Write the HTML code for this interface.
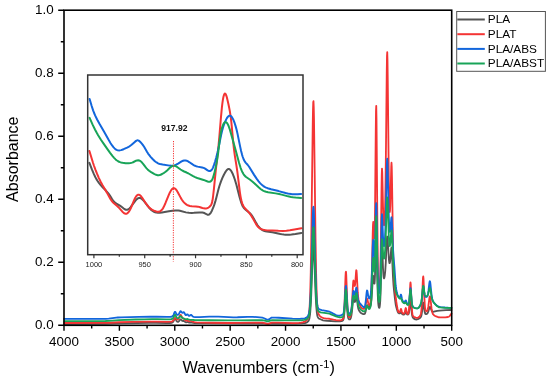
<!DOCTYPE html>
<html><head><meta charset="utf-8"><style>
html,body{margin:0;padding:0;background:#fff;}
svg{display:block;}
text{font-family:"Liberation Sans",Arial,sans-serif;}
</style></head><body>
<svg width="550" height="380" viewBox="0 0 550 380">
<rect width="550" height="380" fill="#fff"/>
<g fill="none" stroke-width="1.8" stroke-linejoin="round" stroke-linecap="round">
<path d="M64,324 L106,323.89 L119.75,323.41 L137,323.01 L148.5,322.84 L156,322.8 L166.25,323.02 L170,322.98 L171,322.9 L171.75,322.76 L172.25,322.57 L172.75,322.22 L173.25,321.61 L173.5,321.18 L174.5,319.04 L174.75,318.66 L175,318.5 L175.25,318.61 L175.5,318.94 L176.25,320.45 L176.75,321.26 L177,321.55 L177.5,321.86 L178,321.86 L178.5,321.61 L179,321.14 L180.25,319.55 L180.5,319.42 L180.75,319.42 L181,319.56 L182.25,320.81 L182.75,320.99 L183.5,320.96 L184,321.08 L185.25,322.03 L185.75,322.25 L186.25,322.28 L187.25,322 L187.5,322.01 L188.5,322.46 L189.25,322.61 L191,322.3 L193,322.86 L194.5,322.99 L203.5,323.09 L239.75,323.23 L276.25,323.59 L289.5,323.64 L296,323.59 L300.5,323.45 L303.75,323.19 L305,323 L305.75,322.82 L306.75,322.42 L307.5,321.96 L308.25,321.24 L308.75,320.43 L309.25,319.04 L309.5,317.98 L310,314.66 L310.25,312.19 L310.75,305.07 L311.25,294.62 L312.75,252.8 L313,248.14 L313.25,245.48 L313.5,245.16 L313.75,247.19 L314,251.31 L315.5,291.96 L316,302.45 L316.25,306.42 L316.75,312.04 L317.25,315.29 L317.5,316.29 L318,317.53 L318.5,318.18 L319,318.56 L320.5,319.21 L322,319.95 L323,320.3 L324.75,320.57 L327,320.77 L335.25,321.29 L338.25,321.4 L340,321.36 L341.25,321.21 L342.25,320.89 L342.75,320.56 L343,320.29 L343.25,319.87 L343.5,319.21 L343.75,318.2 L344,316.66 L344.5,311.46 L345.5,294.95 L345.75,292.46 L346,292.17 L346.25,294.17 L347.25,310.26 L347.75,315.58 L348,317.13 L348.25,318.14 L348.5,318.75 L348.75,319.11 L349,319.3 L349.5,319.43 L350,319.36 L350.25,319.13 L350.5,318.68 L350.75,318.05 L351.25,316.17 L351.5,314.85 L352,311.21 L353,300.9 L353.25,299.21 L353.5,298.61 L353.75,298.97 L354.5,301.6 L354.75,301.97 L355,301.84 L355.25,301.09 L356,296.86 L356.25,296.01 L356.5,296.23 L356.75,297.57 L357.75,305.87 L358.25,308.38 L358.75,309.86 L359.5,311.3 L360.25,312.33 L361,313 L362.25,313.7 L363.25,314.08 L364,314.16 L364.5,314 L364.75,313.78 L365,313.39 L365.5,312.01 L366.5,307.28 L366.75,306.21 L367,305.5 L367.25,305.25 L367.5,305.39 L368.25,306.56 L368.5,306.84 L368.75,307 L369,307.07 L369.5,307 L369.75,306.88 L370,306.67 L370.25,306.32 L370.5,305.78 L370.75,304.95 L371,303.7 L371.5,299.46 L372,292.43 L372.75,279.69 L373,276.92 L373.25,275.97 L373.5,276.92 L374,281.8 L374.25,283.6 L374.5,283.57 L374.75,280.88 L375,275.11 L375.75,245.36 L376,237.84 L376.25,236.24 L376.5,241.52 L377.25,276.27 L377.75,294.4 L378,299.92 L378.25,303.5 L378.5,305.67 L378.75,306.92 L379,307.56 L379.25,307.8 L379.5,307.53 L379.75,306.42 L380,304.24 L380.25,300.62 L380.5,295.11 L380.75,287.35 L381.5,254.73 L381.75,246.42 L382,243.65 L382.25,246.76 L383,267.89 L383.25,272.91 L383.5,276.13 L383.75,277.88 L384,278.4 L384.25,278.06 L384.5,277.12 L384.75,275.64 L385.25,270.87 L385.75,263.02 L386.75,241.49 L387,237.88 L387.25,236.53 L387.5,237.65 L387.75,240.76 L388.75,257.53 L389,260.34 L389.25,262.22 L389.5,263.16 L389.75,263.12 L390,262.15 L390.25,260.33 L391.25,248.4 L391.5,247.59 L391.75,249.46 L392,253.88 L393,277.43 L393.5,285 L394,290.31 L395,299.45 L395.75,304.78 L396.25,307.02 L397,309.79 L397.75,311.9 L398.25,312.77 L398.75,313.15 L399.25,313.37 L399.5,313.41 L399.75,313.38 L400,313.26 L400.75,312.55 L401,312.5 L401.25,312.69 L402,313.83 L402.25,314.11 L402.75,314.42 L403.25,314.55 L403.75,314.59 L404.25,314.48 L404.5,314.32 L405,313.65 L405.5,312.74 L405.75,312.51 L406,312.61 L406.75,313.92 L407,314.24 L407.25,314.45 L407.75,314.56 L408,314.5 L408.25,314.35 L408.5,314.05 L408.75,313.49 L409,312.49 L409.25,310.92 L410.25,300.8 L410.5,300 L410.75,301.16 L411.75,312.67 L412,314.57 L412.25,315.87 L412.5,316.72 L412.75,317.3 L413.25,318.01 L413.75,318.5 L414.25,318.87 L415,319.28 L415.5,319.43 L416.25,319.5 L417,319.42 L417.75,319.21 L418.5,318.9 L419.5,318.33 L420.25,317.73 L420.75,317.12 L421,316.66 L421.25,316 L421.5,315.04 L421.75,313.69 L422,311.89 L422.75,304.88 L423,303.16 L423.25,302.6 L423.5,303.35 L424.25,309.27 L424.75,312.34 L425,313.23 L425.25,313.76 L425.5,314.05 L425.75,314.17 L426.25,314.17 L426.75,313.97 L427.25,313.57 L427.75,312.86 L428.25,311.67 L429.5,307.42 L429.75,306.93 L430,306.79 L430.25,307.03 L430.5,307.56 L431.25,309.72 L431.75,310.85 L432.25,311.49 L432.75,311.75 L433.25,311.77 L433.75,311.7 L437.25,310.88 L439.5,310.54 L446,310.14 L451.5,310" stroke="#555555"/>
<path d="M64,323 L105.5,322.9 L109.25,322.77 L118.75,322.24 L132.75,321.93 L150.25,321.72 L156.75,321.7 L167,321.81 L170.75,321.72 L171.75,321.56 L172.25,321.36 L172.75,321.03 L173.5,320.17 L174.5,318.49 L174.75,318.17 L175,318 L175.25,318 L175.5,318.14 L176.5,319.15 L177,319.45 L177.5,319.5 L178,319.27 L178.5,318.72 L178.75,318.31 L180,315.49 L180.25,315.05 L180.5,314.82 L180.75,314.85 L181,315.11 L182,317.18 L182.5,317.94 L183,318.31 L183.75,318.57 L184,318.75 L185.25,320.11 L185.75,320.46 L186.25,320.59 L187.25,320.48 L187.5,320.53 L188.5,321.07 L189,321.23 L189.5,321.22 L190.5,320.87 L191,320.8 L191.5,321.01 L192.5,321.67 L193.25,321.97 L194.5,322.16 L196.5,322.28 L203.25,322.53 L212.25,322.76 L229,322.99 L238.75,322.97 L262,322.6 L262.75,322.66 L263.5,322.82 L266.75,323.85 L268,324 L268.75,323.87 L271,322.82 L271.5,322.66 L272,322.6 L278,322.66 L292.5,323.07 L296,323.05 L299,322.9 L301.25,322.64 L303.25,322.2 L304.75,321.63 L305.5,321.2 L306,320.82 L306.75,320.05 L307.25,319.37 L308,317.88 L308.5,316.25 L309,313.45 L309.5,308.34 L309.75,304.37 L310.25,292.08 L310.75,271.9 L311.25,242.11 L312.75,122.74 L313,109.49 L313.25,102 L313.5,101.21 L313.75,107.21 L314,119.21 L315.5,236.94 L316,267.34 L316.25,278.87 L316.5,288.09 L317,300.74 L317.5,307.79 L317.75,309.96 L318.25,312.68 L318.5,313.54 L319,314.71 L319.5,315.5 L320,316.09 L320.75,316.75 L321.5,317.24 L322.5,317.72 L323.5,318.05 L325.5,318.42 L329.5,318.76 L333.5,319.69 L336,320.06 L338.5,320.29 L340.25,320.35 L341.25,320.22 L342,319.9 L342.5,319.49 L342.75,319.17 L343,318.7 L343.25,318 L343.5,316.91 L343.75,315.21 L344,312.64 L344.5,303.95 L345.5,276.33 L345.75,272.17 L346,271.69 L346.25,275.03 L347,295.55 L347.5,307 L347.75,310.78 L348,313.38 L348.25,315.05 L348.5,316.07 L348.75,316.65 L349,316.97 L349.25,317.12 L349.75,317.14 L350,317.04 L350.25,316.62 L350.5,315.85 L351,313.32 L351.5,309.21 L351.75,306.34 L352.25,298.58 L353,284.55 L353.25,281.57 L353.5,280.54 L353.75,281.23 L354.25,284.51 L354.5,285.71 L354.75,286.05 L355,285.26 L355.25,283.15 L356,272.44 L356.25,270.24 L356.5,270.57 L356.75,273.56 L357.75,292.44 L358.25,297.98 L358.5,299.73 L359,302.17 L359.5,303.95 L360,305.41 L360.75,307.07 L361.25,307.78 L361.5,308 L362.5,308.58 L363.25,308.84 L363.75,308.87 L364,308.82 L364.5,308.5 L364.75,308.17 L365,307.68 L365.5,306.02 L366.5,300.19 L366.75,299.02 L367,298.5 L367.25,298.76 L367.5,299.66 L368.25,303.39 L368.5,304.3 L368.75,304.91 L369,305.22 L369.25,305.27 L369.5,305.09 L369.75,304.67 L370,304 L370.25,302.97 L370.5,301.41 L370.75,299.09 L371,295.7 L371.25,290.89 L371.75,275.97 L372.75,232.26 L373,224.76 L373.25,221.81 L373.5,223.65 L374,234.61 L374.25,238.27 L374.5,237.1 L374.75,228.95 L375,212.69 L375.75,131.34 L376,110.72 L376.25,105.82 L376.5,119.18 L377.25,209.64 L377.75,256.66 L378,270.81 L378.25,279.86 L378.5,285.21 L378.75,288.14 L379,289.56 L379.25,290 L379.5,289.34 L379.75,286.83 L380,282.19 L380.25,274.89 L380.75,249.66 L381.5,190.08 L381.75,174.63 L382,168.57 L382.25,172.54 L383,205.94 L383.25,214.4 L383.5,220.25 L383.75,223.93 L384,225.3 L384.25,224.77 L384.5,222.45 L384.75,218.09 L385,211.11 L385.25,200.79 L385.5,186.48 L386,145.26 L386.75,71.22 L387,55.92 L387.25,52.05 L387.5,60.72 L387.75,79.45 L388.75,174.65 L389,190.91 L389.25,202.46 L389.5,209.41 L389.75,211.99 L390,210.55 L390.25,205.61 L390.5,197.46 L391.25,166.47 L391.5,162.7 L391.75,167.05 L392,179.15 L393,245.41 L393.25,256.98 L393.75,272.61 L394.25,281.8 L394.75,287.74 L395.5,295.05 L396.25,301.23 L396.75,304.59 L397.5,308.64 L398,310.86 L398.25,311.61 L398.5,312 L399,312.27 L399.25,312.31 L399.5,312.23 L399.75,311.97 L400,311.49 L400.75,309.25 L401,309 L401.25,309.39 L402,312.05 L402.25,312.69 L402.5,313.12 L402.75,313.39 L403.25,313.66 L403.75,313.72 L404,313.64 L404.25,313.43 L404.5,312.98 L404.75,312.22 L405.5,308.63 L405.75,308.01 L406,308.34 L406.75,312.06 L407,313 L407.25,313.59 L407.5,313.9 L407.75,313.98 L408,313.89 L408.25,313.57 L408.5,312.9 L408.75,311.64 L409,309.46 L409.25,306.05 L410.25,284.21 L410.5,282.3 L410.75,284.41 L411.75,307.04 L412,310.64 L412.25,313.02 L412.5,314.48 L412.75,315.36 L413,315.91 L413.5,316.54 L414,316.93 L414.5,317.22 L415.75,317.66 L417,317.81 L417.5,317.79 L418,317.67 L418.5,317.43 L419,317.06 L419.75,316.27 L420.25,315.5 L420.75,314.23 L421,313.15 L421.25,311.53 L421.5,309.09 L422,300.82 L422.75,282.17 L423,277.66 L423.25,276.33 L423.5,278.64 L424.25,295.65 L424.75,304.58 L425,307.28 L425.25,309.01 L425.5,310.05 L425.75,310.65 L426,311 L426.25,311.19 L426.5,311.26 L426.75,311.22 L427,311.07 L427.25,310.77 L427.5,310.26 L427.75,309.49 L428.25,306.99 L429.5,297.37 L429.75,296.42 L430,296.43 L430.25,297.43 L430.5,299.21 L431.5,308.13 L432,311.23 L432.25,312.29 L432.75,313.69 L433.25,314.48 L433.75,314.98 L434.75,315.68 L436.25,316.46 L437.5,316.94 L438.75,317.26 L439.75,317.39 L441.25,317.42 L445.25,317.28 L448,317 L448.75,316.72 L449.25,316.35 L450,315.59 L451.5,313.67" stroke="#F43434"/>
<path d="M64,318.9 L105.5,318.89 L108.75,318.65 L116.25,317.63 L117.75,317.51 L121,317.38 L139,316.92 L149.75,316.73 L156.75,316.71 L167,316.94 L170.25,316.87 L171.25,316.76 L171.75,316.63 L172.25,316.39 L172.75,315.97 L173.25,315.27 L173.5,314.8 L174.5,312.43 L174.75,312 L175,311.8 L175.25,311.87 L175.5,312.18 L176.25,313.61 L176.75,314.39 L177.25,314.83 L177.5,314.91 L177.75,314.91 L178,314.83 L178.5,314.43 L179,313.72 L180,311.81 L180.25,311.44 L180.5,311.23 L180.75,311.22 L181,311.39 L181.75,312.37 L182,312.63 L182.25,312.78 L182.5,312.81 L182.75,312.72 L183.5,312.2 L183.75,312.18 L184,312.35 L184.25,312.7 L185.25,314.54 L185.75,315.05 L186,315.13 L186.25,315.08 L187.25,314.31 L187.5,314.34 L187.75,314.55 L188.5,315.54 L188.75,315.76 L189,315.88 L189.25,315.9 L189.75,315.69 L190.75,314.84 L191,314.8 L191.25,314.91 L191.5,315.14 L192.25,316.05 L193,316.68 L193.75,316.96 L195,317.1 L197,317.15 L199.5,317.11 L209.25,316.7 L213.5,316.6 L218.25,316.68 L228.75,317.18 L233.25,317.3 L237.5,317.24 L247.75,316.83 L252.75,316.85 L257.25,317.11 L262.25,317.64 L263.5,318.01 L266.5,319.32 L267.25,319.53 L268,319.6 L268.75,319.41 L269.25,319.14 L271,317.91 L271.5,317.69 L272,317.6 L275.25,317.64 L278.75,317.76 L292.5,318.6 L297.75,318.79 L300.5,318.75 L302.75,318.59 L304.5,318.32 L305.25,318.13 L305.75,317.92 L306.75,317.28 L307.5,316.53 L308.25,315.38 L308.75,314.14 L309.25,312.07 L309.5,310.51 L310,305.71 L310.25,302.17 L310.75,292.01 L311.25,277.13 L312.75,217.78 L313,211.14 L313.25,207.33 L313.5,206.79 L313.75,209.59 L314,215.33 L315.5,272.22 L316,286.88 L316.25,292.41 L316.75,300.23 L317.25,304.71 L317.5,306.08 L317.75,307.06 L318,307.75 L318.25,308.25 L318.75,308.87 L319.5,309.39 L320.25,309.74 L321.75,310.17 L326,310.95 L329.5,311.74 L330.75,312.27 L333.25,313.65 L336,314.97 L337.5,315.56 L338.5,315.71 L339.75,315.56 L341.5,315.06 L342.5,314.57 L343,314.07 L343.25,313.64 L343.5,312.98 L343.75,311.96 L344,310.43 L344.5,305.23 L345.5,288.73 L345.75,286.25 L346,285.98 L346.25,287.99 L347,300.34 L347.5,307.24 L347.75,309.53 L348,311.11 L348.25,312.13 L348.5,312.76 L348.75,313.13 L349,313.34 L349.5,313.51 L350,313.47 L350.25,313.23 L350.5,312.77 L350.75,312.11 L351.25,310.12 L351.75,306.94 L352,304.74 L353,293.37 L353.25,291.52 L353.5,290.92 L353.75,291.4 L354.5,294.53 L354.75,294.97 L355,294.8 L355.25,293.91 L356,288.81 L356.25,287.71 L356.5,287.8 L356.75,289.15 L357.75,297.82 L358,299.24 L358.5,301.04 L359,302.06 L359.75,303.12 L360.5,304 L361.5,305.02 L362.75,306.52 L363.5,307.19 L363.75,307.31 L364,307.34 L364.25,307.25 L364.5,307 L364.75,306.53 L365,305.76 L365.25,304.62 L365.75,301.06 L366.5,293.59 L366.75,291.58 L367,290.5 L367.25,290.54 L367.5,291.52 L368.25,296.08 L368.5,297.21 L368.75,297.96 L369,298.36 L369.25,298.47 L369.5,298.36 L369.75,298.08 L370,297.61 L370.25,296.87 L370.5,295.76 L370.75,294.11 L371,291.7 L371.25,288.28 L371.5,283.64 L372,270.5 L372.75,246.85 L373,241.72 L373.25,239.94 L373.5,241.76 L374.25,256.05 L374.5,258.07 L374.75,256.4 L375,250.43 L375.25,240.37 L375.75,214.57 L376,205.2 L376.25,203.21 L376.5,209.89 L377.5,266.72 L377.75,276.6 L378,283.5 L378.25,287.93 L378.5,290.58 L378.75,292.05 L379,292.77 L379.25,293 L379.5,292.58 L379.75,290.98 L380,288.02 L380.25,283.32 L380.5,276.45 L381,255.2 L381.5,228.47 L381.75,218.33 L382,214.14 L382.25,216.32 L383,236.22 L383.25,241.03 L383.5,244.15 L383.75,245.85 L384,246.17 L384.25,245.42 L384.5,243.76 L384.75,241.1 L385,237.23 L385.5,224.57 L385.75,215.36 L386.75,168.48 L387,160.95 L387.25,158.73 L387.5,162.37 L387.75,170.71 L388.75,213.92 L389,221.4 L389.25,226.8 L389.5,230.24 L389.75,231.87 L390,231.92 L390.25,230.61 L390.5,228.12 L391.25,218.27 L391.5,217.25 L391.75,219.02 L392,223.48 L392.75,242.45 L393.25,252.52 L393.5,256.27 L394.5,268.16 L395.5,283.07 L395.75,285.96 L396,288 L396.25,289.47 L397,293.07 L397.75,295.47 L398.25,296.44 L398.75,297.21 L399.25,297.71 L399.5,297.76 L399.75,297.59 L400,297.14 L400.75,294.78 L401,294.6 L401.25,295.22 L402,298.94 L402.25,299.87 L402.5,300.53 L403,301.32 L403.75,301.96 L404.25,302.13 L404.5,302.07 L404.75,301.85 L405,301.47 L405.5,300.55 L405.75,300.38 L406,300.65 L406.75,302.71 L407,303.25 L407.25,303.62 L407.5,303.85 L407.75,303.97 L408,304 L408.25,303.91 L408.5,303.64 L408.75,303.05 L409,301.98 L409.25,300.26 L410.25,289.03 L410.5,288.1 L410.75,289.3 L411.75,301.61 L412,303.6 L412.25,304.94 L412.5,305.79 L412.75,306.33 L413.25,306.95 L414,307.48 L414.75,307.86 L415.75,308.2 L416.75,308.37 L417.5,308.39 L418,308.24 L418.5,307.88 L419,307.35 L419.5,306.67 L420,305.83 L420.75,304.2 L421.25,302.48 L421.75,299.56 L422,297.46 L422.75,289.56 L423,287.57 L423.25,286.74 L423.5,287.26 L424.5,294.16 L424.75,295.34 L425,296.13 L425.25,296.59 L425.5,296.83 L425.75,296.95 L426.25,297 L426.75,296.82 L427,296.6 L427.25,296.24 L427.5,295.68 L428,293.72 L428.5,290.4 L429.25,283.95 L429.5,282.23 L429.75,281.28 L430,281.36 L430.25,282.5 L430.5,284.47 L431.5,294.29 L432,297.77 L432.25,299 L432.75,300.69 L433.25,301.73 L434,302.79 L435.25,304.15 L436.75,305.46 L438,306.29 L439.25,306.84 L439.75,306.96 L441,307.12 L445,307.51 L448.25,307.71 L451.5,307.8" stroke="#1266DC"/>
<path d="M64,321.1 L105.5,320.99 L109.25,320.82 L119,320.04 L135.75,319.49 L144.25,319.3 L152,319.21 L157.25,319.21 L166.5,319.34 L170,319.28 L171,319.2 L171.75,319.06 L172.25,318.87 L172.75,318.52 L173.25,317.91 L173.5,317.48 L174.5,315.34 L174.75,314.96 L175,314.8 L175.25,314.91 L175.5,315.24 L176.25,316.73 L176.75,317.55 L177,317.83 L177.5,318.16 L178,318.2 L178.5,318.01 L179,317.61 L180.25,316.31 L180.5,316.21 L180.75,316.23 L181.25,316.63 L182.25,317.79 L182.75,318.19 L183.25,318.42 L185,319.02 L186,319.17 L187,319.02 L187.5,319.01 L188.75,319.47 L189.25,319.59 L194.25,319.98 L210,320.25 L227.75,320.39 L238.5,320.39 L262,320.2 L263.5,320.36 L266.75,321.09 L268,321.2 L268.75,321.11 L271,320.36 L272,320.2 L291.75,320.42 L297.25,320.41 L300,320.33 L302.25,320.19 L304.25,319.94 L305.5,319.66 L306.5,319.17 L307.25,318.6 L308,317.76 L308.5,316.91 L309,315.57 L309.25,314.58 L309.75,311.55 L310,309.27 L310.5,302.56 L311,292.21 L311.5,277.93 L312.75,236.3 L313,230.78 L313.25,227.61 L313.5,227.15 L313.75,229.45 L314,234.19 L315.5,281.2 L316,293.31 L316.25,297.88 L316.75,304.34 L317.25,308.03 L317.5,309.17 L317.75,309.97 L318,310.54 L318.25,310.95 L318.75,311.47 L319.5,311.91 L320.5,312.3 L322.5,312.73 L329.5,313.7 L330.5,314.06 L333,315.2 L336,316.35 L337.75,316.9 L339.75,317.26 L341,317.34 L342,317.18 L342.75,316.76 L343,316.5 L343.25,316.1 L343.5,315.47 L343.75,314.5 L344,313.04 L344.5,308.08 L345.5,292.32 L345.75,289.94 L346,289.66 L346.25,291.55 L347,303.2 L347.5,309.7 L347.75,311.83 L348,313.3 L348.25,314.24 L348.5,314.8 L348.75,315.12 L349,315.28 L349.5,315.36 L350,315.26 L350.25,315.02 L350.75,313.98 L351.25,312.21 L351.75,309.44 L352,307.54 L353,297.78 L353.25,296.19 L353.5,295.65 L353.75,296.04 L354.5,298.62 L354.75,298.98 L355,298.83 L355.25,298.1 L356,293.95 L356.25,293.12 L356.5,293.32 L356.75,294.62 L357.5,300.91 L358,304.06 L358.25,305.11 L358.75,306.56 L359.25,307.56 L359.75,308.37 L360.25,309.05 L360.75,309.59 L362,310.55 L363,311.18 L363.75,311.43 L364.25,311.41 L364.75,311.11 L365.25,310.43 L365.75,309.16 L366.5,306.51 L366.75,305.82 L367,305.5 L367.25,305.62 L367.5,306.09 L368.25,308.1 L368.5,308.58 L368.75,308.88 L369,309.02 L369.25,309.01 L369.5,308.86 L369.75,308.57 L370,308.14 L370.25,307.48 L370.5,306.51 L370.75,305.08 L371,302.99 L371.25,300.02 L371.5,296.01 L372,284.61 L372.75,264.06 L373,259.56 L373.25,257.93 L373.5,259.37 L374.25,270.81 L374.5,271.92 L374.75,269.58 L375,263.19 L375.25,252.99 L375.75,227.42 L376,218.15 L376.25,216.07 L376.5,222.4 L377.5,276.95 L377.75,286.42 L378,293.01 L378.25,297.23 L378.5,299.73 L378.75,301.11 L379,301.78 L379.25,302 L379.5,301.65 L379.75,300.27 L380,297.77 L380.25,293.9 L380.5,288.37 L381,271.7 L381.5,250.94 L381.75,242.86 L382,239.08 L382.25,239.9 L383,252.4 L383.25,255.47 L383.5,257.45 L383.75,258.54 L384,258.67 L384.25,258.04 L384.5,256.78 L384.75,254.83 L385.25,248.23 L385.5,243.16 L386,229.08 L386.75,204.26 L387,199.01 L387.25,197.41 L387.5,199.81 L387.75,205.43 L388.75,234.65 L389,239.65 L389.25,243.18 L389.5,245.28 L389.75,246.01 L390,245.48 L390.25,243.84 L390.5,241.2 L391.25,231.36 L391.5,230.35 L391.75,232.09 L392,236.46 L392.75,254.91 L393.25,264.53 L394.5,280.68 L395,286.35 L395.25,288.52 L395.5,290 L396,291.91 L396.75,294.06 L397.75,296.08 L398.75,297.66 L399.5,298.52 L399.75,298.65 L400,298.65 L400.75,298.2 L401,298.3 L401.25,298.74 L402.25,301.4 L402.75,302.17 L403.25,302.66 L404,303.19 L404.5,303.31 L404.75,303.23 L405,303.04 L405.5,302.54 L405.75,302.48 L406,302.7 L406.75,304.14 L407.25,304.77 L407.75,305.01 L408,305 L408.25,304.89 L408.5,304.6 L408.75,304.02 L409,302.98 L409.25,301.31 L410.25,290.51 L410.5,289.6 L410.75,290.72 L411.75,302.34 L412,304.2 L412.25,305.45 L412.5,306.23 L412.75,306.72 L413,307.04 L413.5,307.43 L414.25,307.81 L415,308.07 L416,308.3 L417,308.4 L417.75,308.33 L418.25,308.05 L418.75,307.56 L419.25,306.89 L419.75,306.05 L420.25,305.05 L420.75,303.79 L421.25,301.97 L421.75,298.93 L422,296.76 L422.75,288.66 L423,286.61 L423.25,285.74 L423.5,286.22 L424.25,291.5 L424.75,294.27 L425,295.06 L425.25,295.53 L425.5,295.78 L425.75,295.92 L426.5,296.06 L427,295.96 L427.25,295.8 L427.5,295.53 L427.75,295.12 L428.25,293.73 L429.25,289.23 L429.5,288.33 L429.75,287.88 L430,288.04 L430.25,288.84 L430.5,290.12 L431.25,294.98 L431.75,297.72 L432,298.78 L432.5,300.35 L433.25,301.83 L434.25,303.2 L435.75,304.9 L437.25,306.26 L438.5,307.05 L439.25,307.35 L439.75,307.47 L445.5,307.84 L451.5,308" stroke="#18A458"/>
</g>
<rect x="87.7" y="75" width="215.3" height="179.7" fill="#fff" stroke="none"/>
<g fill="none" stroke-width="2.0" stroke-linejoin="round" stroke-linecap="round">
<path d="M89.4,162.9 L91.9,169.39 L93.9,174.16 L95.4,177.29 L96.4,179.11 L97.4,180.75 L98.9,182.92 L100.9,185.37 L102.4,186.99 L105.9,190.54 L107.9,192.79 L108.9,194.08 L109.9,195.52 L111.9,198.85 L112.9,200.37 L113.9,201.57 L115.4,202.91 L116.4,203.59 L119.9,205.6 L120.9,206.32 L123.4,208.33 L124.4,209.01 L125.4,209.52 L125.9,209.68 L126.4,209.76 L126.9,209.77 L127.4,209.67 L127.9,209.48 L128.9,208.84 L129.4,208.41 L130.4,207.36 L131.9,205.45 L134.9,201.32 L135.9,200.1 L136.9,199.09 L137.9,198.34 L138.4,198.09 L138.9,197.93 L139.4,197.88 L139.9,197.93 L140.4,198.07 L141.4,198.6 L141.9,198.97 L142.9,199.89 L144.4,201.6 L147.9,206.18 L149.4,208.03 L150.9,209.63 L151.9,210.5 L153.4,211.51 L154.9,212.18 L156.4,212.59 L157.9,212.78 L159.9,212.77 L161.9,212.57 L168.9,211.27 L172.4,210.74 L175.4,210.48 L177.4,210.45 L178.4,210.52 L179.9,210.77 L185.9,212.36 L187.4,212.63 L188.9,212.8 L191.9,212.88 L193.9,212.81 L199.4,212.43 L200.9,212.4 L202.4,212.49 L203.4,212.69 L204.4,213.05 L206.4,214.21 L207.4,214.67 L207.9,214.78 L208.4,214.77 L208.9,214.62 L209.4,214.31 L209.9,213.86 L210.9,212.54 L211.9,210.73 L213.4,207.22 L214.4,204.38 L215.4,201.12 L216.4,197.44 L218.4,189.59 L219.4,186.04 L220.9,181.58 L222.4,177.94 L223.9,174.8 L224.9,172.89 L225.9,171.24 L226.4,170.54 L226.9,169.95 L227.4,169.49 L227.9,169.17 L228.4,169 L228.9,169 L229.4,169.16 L229.9,169.48 L230.4,169.94 L230.9,170.55 L231.4,171.3 L232.4,173.17 L232.9,174.28 L233.9,176.82 L234.9,179.76 L236.4,184.81 L239.4,196.38 L240.4,200.02 L241.4,203.17 L242.4,205.63 L243.4,207.37 L244.4,208.61 L245.9,209.98 L248.4,211.9 L249.4,212.76 L250.4,213.77 L251.4,214.95 L252.4,216.33 L253.4,217.93 L256.4,223.36 L257.4,224.99 L258.9,227.01 L260.4,228.59 L261.4,229.41 L262.9,230.35 L263.9,230.8 L265.4,231.25 L266.9,231.53 L270.4,231.91 L272.4,232.23 L280.4,234.01 L282.4,234.37 L283.9,234.57 L285.4,234.69 L287.4,234.74 L289.4,234.68 L291.4,234.53 L295.4,234.03 L301.4,233" stroke="#555555"/>
<path d="M89.4,151 L92.9,162.48 L93.9,165.48 L95.4,169.64 L96.9,173.46 L98.9,178.1 L100.9,182.27 L102.4,185.09 L106.9,192.63 L110.4,199.02 L111.9,201.19 L112.9,202.35 L113.9,203.33 L117.4,206.27 L118.4,207.2 L122.4,211.69 L123.4,212.63 L124.4,213.34 L124.9,213.58 L125.4,213.73 L125.9,213.78 L126.4,213.73 L126.9,213.55 L127.4,213.25 L127.9,212.84 L128.9,211.67 L129.9,210.07 L130.9,208.07 L131.9,205.71 L133.9,200.65 L134.9,198.45 L135.4,197.52 L136.4,196.03 L136.9,195.48 L137.4,195.07 L137.9,194.8 L138.4,194.69 L138.9,194.73 L139.4,194.9 L139.9,195.2 L140.9,196.11 L142.4,198.04 L145.9,203.44 L147.4,205.52 L148.9,207.19 L149.9,208.12 L150.9,208.91 L151.9,209.6 L153.4,210.45 L154.9,211.08 L156.4,211.52 L157.4,211.69 L158.4,211.74 L159.4,211.59 L160.4,211.16 L161.4,210.39 L162.4,209.2 L162.9,208.43 L163.9,206.58 L165.4,203.23 L168.9,194.61 L169.9,192.44 L170.9,190.61 L171.9,189.24 L172.4,188.75 L172.9,188.4 L173.4,188.2 L173.9,188.16 L174.4,188.27 L174.9,188.52 L175.4,188.9 L176.4,190.02 L176.9,190.75 L177.9,192.45 L180.9,198.11 L181.9,199.72 L182.9,201.13 L183.9,202.34 L184.9,203.35 L185.9,204.17 L186.9,204.82 L188.4,205.51 L189.9,205.94 L191.9,206.22 L195.9,206.41 L197.9,206.64 L199.4,206.99 L202.4,207.97 L203.9,208.36 L204.9,208.48 L205.9,208.46 L206.9,208.25 L207.4,208.07 L208.4,207.55 L208.9,207.22 L209.9,206.39 L210.9,205.29 L211.4,204.38 L211.9,202.95 L212.4,200.81 L212.9,197.75 L213.9,189.23 L215.9,169.06 L218.4,147.03 L219.4,136.03 L220.9,117.94 L221.9,107.31 L222.4,103.05 L222.9,99.63 L223.4,97.02 L223.9,95.17 L224.4,94.04 L224.9,93.59 L225.4,93.79 L225.9,94.57 L226.4,95.85 L226.9,97.53 L228.4,104 L229.4,108.85 L229.9,111.59 L230.9,118.35 L231.4,122.6 L233.4,144.01 L233.9,148.65 L234.9,156.11 L236.4,165.35 L237.4,172.22 L239.9,192.32 L240.4,195.61 L240.9,198.35 L241.4,200.58 L241.9,202.39 L242.4,203.84 L242.9,205.02 L243.4,206 L243.9,206.84 L244.9,208.22 L248.4,211.88 L249.4,213.1 L250.4,214.45 L251.4,215.95 L252.4,217.62 L255.9,223.88 L257.4,226.08 L258.4,227.22 L259.4,228.1 L260.4,228.75 L261.4,229.21 L262.4,229.55 L263.4,229.79 L264.9,230.05 L266.4,230.2 L278.4,230.86 L282.9,230.91 L286.4,230.69 L289.9,230.27 L294.4,229.55 L301.4,228.3" stroke="#F43434"/>
<path d="M89.6,99 L91.6,105.79 L93.1,110.35 L94.1,113 L95.1,115.38 L97.1,119.54 L99.6,124.1 L104.1,131.83 L108.6,139.86 L110.6,143.21 L112.1,145.47 L113.6,147.39 L114.6,148.43 L115.1,148.87 L116.1,149.57 L116.6,149.83 L117.6,150.2 L118.6,150.38 L119.6,150.39 L121.1,150.11 L122.1,149.79 L123.6,149.2 L127.1,147.67 L128.6,146.86 L129.6,146.22 L131.6,144.71 L135.1,141.65 L136.1,140.86 L136.6,140.56 L137.1,140.37 L137.6,140.3 L138.1,140.37 L138.6,140.56 L139.1,140.86 L140.1,141.7 L141.6,143.32 L142.6,144.59 L144.1,146.8 L147.1,151.98 L148.1,153.57 L149.1,154.99 L150.6,156.85 L152.6,159.01 L154.6,160.93 L155.6,161.77 L156.6,162.49 L158.1,163.32 L159.1,163.72 L160.1,164.03 L162.6,164.53 L169.6,165.62 L171.1,165.74 L172.6,165.71 L174.1,165.45 L175.1,165.14 L176.1,164.73 L178.1,163.66 L181.6,161.46 L183.1,160.75 L184.1,160.47 L184.6,160.41 L185.6,160.46 L186.6,160.72 L188.1,161.43 L189.1,162.04 L192.6,164.4 L194.1,165.29 L195.1,165.79 L196.1,166.19 L197.6,166.62 L202.1,167.42 L203.6,167.87 L205.1,168.64 L207.6,170.34 L208.6,170.82 L209.1,170.96 L209.6,171 L210.1,170.94 L210.6,170.76 L211.1,170.43 L211.6,169.94 L212.1,169.27 L212.6,168.4 L213.1,167.32 L214.1,164.64 L215.1,161.43 L216.1,157.93 L217.6,152.15 L218.6,147.59 L221.1,135.12 L222.1,130.8 L223.1,127.2 L223.6,125.65 L224.6,122.94 L226.1,119.62 L227.1,117.86 L227.6,117.15 L228.1,116.57 L228.6,116.13 L229.1,115.84 L229.6,115.71 L230.1,115.74 L230.6,115.94 L231.1,116.29 L231.6,116.8 L232.1,117.45 L233.1,119.22 L234.1,121.56 L234.6,122.94 L235.6,126.12 L236.6,129.84 L237.6,134.11 L240.1,146.4 L241.1,151 L242.1,154.87 L242.6,156.52 L243.6,159.23 L244.1,160.31 L245.1,161.95 L245.6,162.58 L247.6,164.73 L249.1,166.75 L254.1,174.85 L256.6,178.62 L258.6,181.32 L260.1,183.09 L261.1,184.13 L262.1,185.04 L263.1,185.83 L264.6,186.8 L266.1,187.56 L267.6,188.17 L271.1,189.22 L278.6,191.09 L285.6,193.01 L287.6,193.48 L289.6,193.86 L292.1,194.15 L294.6,194.26 L297.6,194.21 L301.1,194.02" stroke="#1266DC"/>
<path d="M89.6,117.9 L92.6,124.63 L95.1,129.78 L96.6,132.58 L98.1,135.18 L101.1,139.97 L103.6,143.68 L107.6,149.39 L110.1,152.83 L112.6,156.08 L114.1,157.85 L115.6,159.38 L116.6,160.25 L118.1,161.25 L119.1,161.75 L120.1,162.14 L121.1,162.44 L122.6,162.76 L125.6,163.15 L127.1,163.22 L128.6,163.2 L130.6,163.01 L132.1,162.65 L133.1,162.25 L136.1,160.7 L137.1,160.38 L138.1,160.31 L139.1,160.5 L140.1,160.95 L140.6,161.27 L141.6,162.1 L143.1,163.8 L145.6,167.11 L146.6,168.33 L147.6,169.39 L149.1,170.73 L151.1,172.15 L154.1,173.94 L155.1,174.43 L156.1,174.82 L157.6,175.16 L158.6,175.19 L159.6,175.03 L160.6,174.72 L162.1,174.02 L164.1,172.79 L165.6,171.69 L167.1,170.41 L170.1,167.59 L171.6,166.47 L172.6,165.97 L173.1,165.82 L173.6,165.75 L174.6,165.82 L175.6,166.14 L177.1,166.95 L180.6,169.52 L182.1,170.48 L183.6,171.25 L186.6,172.54 L188.1,173.25 L193.1,176.12 L195.1,177.14 L196.6,177.78 L198.1,178.32 L203.6,179.92 L207.6,181.45 L208.6,181.72 L209.1,181.79 L209.6,181.79 L210.1,181.69 L210.6,181.47 L211.1,181.08 L211.6,180.51 L212.1,179.73 L212.6,178.7 L213.1,177.41 L214.1,174.14 L215.6,167.83 L216.6,162.92 L217.1,160.13 L218.1,153.38 L219.6,140.78 L220.1,137.14 L220.6,134.08 L221.1,131.52 L221.6,129.39 L222.1,127.6 L222.6,126.08 L223.1,124.81 L223.6,123.79 L224.1,123.02 L224.6,122.48 L225.1,122.18 L225.6,122.1 L226.1,122.24 L226.6,122.6 L227.1,123.16 L227.6,123.93 L228.6,126.01 L229.6,128.79 L230.6,132.12 L235.6,150.06 L239.1,162.96 L240.6,167.79 L241.6,170.43 L242.6,172.6 L243.6,174.31 L244.1,175 L245.1,176.12 L246.1,176.98 L250.1,179.76 L252.6,181.67 L254.6,183.42 L258.6,187.25 L260.6,188.97 L261.6,189.7 L262.6,190.32 L263.6,190.84 L264.6,191.27 L266.1,191.77 L268.1,192.24 L275.6,193.37 L279.1,194.02 L281.6,194.62 L288.1,196.35 L291.1,196.99 L293.1,197.31 L295.6,197.6 L301.1,197.98" stroke="#18A458"/>
</g>
<line x1="173.5" y1="141" x2="173.3" y2="261.5" stroke="#F43434" stroke-width="1" stroke-dasharray="1.2,1.2"/>
<rect x="87.7" y="75" width="215.3" height="179.7" fill="none" stroke="#333" stroke-width="1.5"/>
<path d="M93.9,254.7 V258.2 M144.72,254.7 V258.2 M195.55,254.7 V258.2 M246.38,254.7 V258.2 M297.2,254.7 V258.2 M119.31,254.7 V256.7 M170.14,254.7 V256.7 M220.96,254.7 V256.7 M271.79,254.7 V256.7" stroke="#333" stroke-width="1.2" fill="none"/>
<g font-size="7.5" fill="#222">
<text x="93.9" y="266.9" text-anchor="middle">1000</text>
<text x="144.72" y="266.9" text-anchor="middle">950</text>
<text x="195.55" y="266.9" text-anchor="middle">900</text>
<text x="246.38" y="266.9" text-anchor="middle">850</text>
<text x="297.2" y="266.9" text-anchor="middle">800</text>
</g>
<text x="174.4" y="131" text-anchor="middle" font-size="8.6" font-weight="bold" fill="#111">917.92</text>
<rect x="64" y="10.2" width="387.7" height="315.1" fill="none" stroke="#000" stroke-width="1.6"/>
<path d="M64,325.3 V330.8 M119.39,325.3 V330.8 M174.77,325.3 V330.8 M230.16,325.3 V330.8 M285.54,325.3 V330.8 M340.93,325.3 V330.8 M396.31,325.3 V330.8 M451.7,325.3 V330.8 M91.69,325.3 V328.5 M147.08,325.3 V328.5 M202.46,325.3 V328.5 M257.85,325.3 V328.5 M313.24,325.3 V328.5 M368.62,325.3 V328.5 M424.01,325.3 V328.5 M64,325.3 H58.2 M64,262.28 H58.2 M64,199.26 H58.2 M64,136.24 H58.2 M64,73.22 H58.2 M64,10.2 H58.2 M64,293.79 H60.8 M64,230.77 H60.8 M64,167.75 H60.8 M64,104.73 H60.8 M64,41.71 H60.8" stroke="#000" stroke-width="1.4" fill="none"/>
<g font-size="13.4" fill="#000">
<text x="64" y="346.3" text-anchor="middle">4000</text>
<text x="119.39" y="346.3" text-anchor="middle">3500</text>
<text x="174.77" y="346.3" text-anchor="middle">3000</text>
<text x="230.16" y="346.3" text-anchor="middle">2500</text>
<text x="285.54" y="346.3" text-anchor="middle">2000</text>
<text x="340.93" y="346.3" text-anchor="middle">1500</text>
<text x="396.31" y="346.3" text-anchor="middle">1000</text>
<text x="451.7" y="346.3" text-anchor="middle">500</text>
<text x="53.6" y="329.2" text-anchor="end">0.0</text>
<text x="53.6" y="266.18" text-anchor="end">0.2</text>
<text x="53.6" y="203.16" text-anchor="end">0.4</text>
<text x="53.6" y="140.14" text-anchor="end">0.6</text>
<text x="53.6" y="77.12" text-anchor="end">0.8</text>
<text x="53.6" y="14.1" text-anchor="end">1.0</text>
</g>
<text x="182.4" y="373" font-size="16.3" letter-spacing="0.07" fill="#000">Wavenumbers (cm<tspan dy="-4.6" font-size="11">-1</tspan><tspan dy="4.6">)</tspan></text>
<text transform="translate(17.8,159.2) rotate(-90)" text-anchor="middle" font-size="16" fill="#000">Absorbance</text>
<rect x="456.7" y="11.5" width="88.7" height="59.8" fill="#fff" stroke="#555" stroke-width="1"/>
<g stroke-width="2">
<line x1="457.3" y1="19.5" x2="484.8" y2="19.5" stroke="#555555"/>
<line x1="457.3" y1="34.2" x2="484.8" y2="34.2" stroke="#F43434"/>
<line x1="457.3" y1="48.9" x2="484.8" y2="48.9" stroke="#1266DC"/>
<line x1="457.3" y1="63.5" x2="484.8" y2="63.5" stroke="#18A458"/>
</g>
<g font-size="11.8" fill="#000">
<text x="487.8" y="23.3">PLA</text>
<text x="487.8" y="38.0">PLAT</text>
<text x="487.8" y="52.7">PLA/ABS</text>
<text x="487.8" y="67.4">PLA/ABST</text>
</g>
</svg>
</body></html>
